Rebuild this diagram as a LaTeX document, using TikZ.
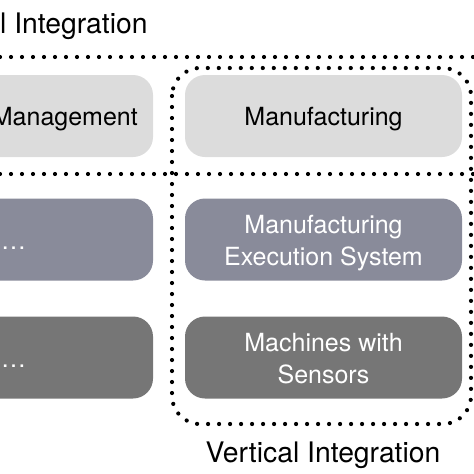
\documentclass[tikz,border=0pt]{standalone}
\usepackage{fontspec}
\setmainfont{TeX Gyre Heros}
\definecolor{tilelight}{HTML}{DCDCDC}
\definecolor{tileslate}{HTML}{898B9A}
\definecolor{tiledark}{HTML}{767676}
\tikzset{
  tile/.style={rounded corners=20pt, minimum width=277pt, minimum height=82pt, inner sep=0pt},
  dotline/.style={line width=4.2pt, line cap=round, dash pattern=on 0pt off 11pt},
  tiletext/.style={font=\fontsize{25}{32}\selectfont, align=center, inner sep=0pt, anchor=base},
  headtext/.style={font=\fontsize{28.3}{32}\selectfont, inner sep=0pt}
}
\begin{document}
\begin{tikzpicture}[x=1pt, y=-1pt]
  \clip (0,0) rectangle (474,474);
  % rows of the two columns
  \node [tile, fill=tilelight] (mgmt) at (14.5, 116) {};
  \node [tile, fill=tilelight] (manu) at (323.5, 116) {};
  \node [tile, fill=tileslate] (midleft) at (14.5, 239.5) {};
  \node [tile, fill=tileslate] (mes) at (323.5, 239.5) {};
  \node [tile, fill=tiledark] (lowleft) at (14.5, 357.5) {};
  \node [tile, fill=tiledark] (machines) at (323.5, 357.5) {};
  % tile texts
  \node [tiletext, anchor=base east] (mgmttext) at (138, 125) {Management};
  \node [tiletext] (manutext) at (323.5, 125) {Manufacturing};
  \node [tiletext, text=white, anchor=base west] (midlefttext) at (1, 249) {…};
  \node [tiletext, text=white] (mestext) at (323.5, 265) {Manufacturing\\Execution System};
  \node [tiletext, text=white, anchor=base west] (lowlefttext) at (1, 367) {…};
  \node [tiletext, text=white] (machinestext) at (323.5, 383) {Machines with\\Sensors};
  % horizontal integration
  \coordinate (htopa) at (0, 57);
  \coordinate (htopb) at (474, 57);
  \coordinate (hbota) at (0, 174);
  \coordinate (hbotb) at (474, 174);
  \draw [dotline] (htopa) -- (htopb);
  \draw [dotline] (hbota) -- (hbotb);
  \node [headtext, anchor=base west] (horiz) at (0, 33) {l Integration};
  % vertical integration
  \draw [dotline, rounded corners=28pt] (172, 68) rectangle (471, 424);
  \node [headtext, anchor=base] (vert) at (323, 462) {Vertical Integration};
\end{tikzpicture}
\end{document}
